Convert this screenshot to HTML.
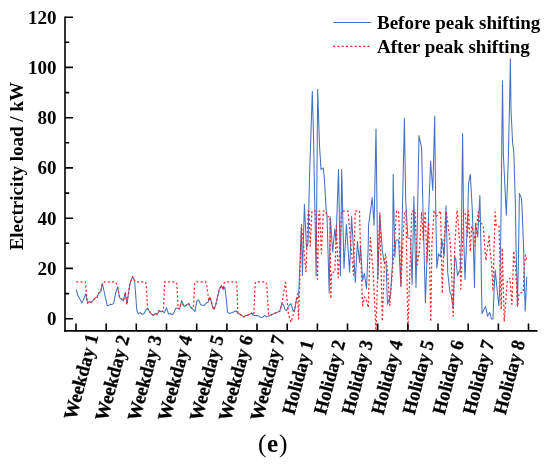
<!DOCTYPE html>
<html><head><meta charset="utf-8"><title>Electricity load</title>
<style>
html,body{margin:0;padding:0;background:#fff;}
svg{display:block;}
text{font-family:"Liberation Serif",serif;fill:#000;}
.b{font-weight:bold;}
</style></head><body>
<svg width="550" height="464" viewBox="0 0 550 464">
<rect width="550" height="464" fill="#fff"/>
<polyline fill="none" stroke="#4472c4" stroke-width="1.05" stroke-linejoin="round" points="76.2,289.5 77.9,295.5 82.0,303.1 85.8,293.8 87.5,303.1 89.6,301.5 91.3,302.5 95.6,297.6 97.1,297.3 98.9,292.7 100.8,291.6 102.4,283.5 107.1,305.3 108.2,305.8 110.4,304.2 112.0,304.4 113.6,303.6 115.8,292.2 117.7,287.3 119.6,297.6 121.3,298.7 123.5,300.9 125.3,292.2 126.9,304.2 129.9,284.0 132.6,276.6 134.6,280.7 135.6,293.8 136.8,310.2 138.3,313.7 140.3,312.6 141.9,314.0 143.8,314.0 145.7,310.2 147.6,308.5 151.2,314.0 153.1,315.3 155.5,313.5 157.2,314.5 159.4,310.4 161.0,311.8 162.6,311.1 164.3,312.9 166.5,307.8 168.6,314.0 170.3,313.5 172.1,314.8 174.1,312.4 175.7,308.5 177.4,308.0 179.5,309.1 181.7,300.9 183.4,305.3 184.1,306.4 185.5,305.8 188.5,303.4 190.9,307.5 193.1,309.3 194.9,311.8 196.9,300.9 198.5,299.8 200.7,304.7 204.0,305.6 206.2,303.1 208.1,302.3 210.0,297.1 212.7,306.9 214.0,309.6 216.0,303.6 219.3,289.5 221.5,285.6 223.1,289.5 224.9,287.3 226.4,300.4 227.5,311.8 229.1,313.5 232.4,312.4 236.2,310.7 237.8,313.5 238.3,313.5 240.5,314.5 243.7,316.9 245.9,315.4 248.1,315.1 251.4,313.2 253.5,315.4 255.7,315.6 257.9,315.6 261.2,317.6 263.1,316.9 264.5,315.4 266.6,316.9 269.9,315.4 273.2,314.0 276.5,312.4 279.7,311.3 281.9,303.6 283.5,304.7 285.0,309.6 286.6,310.7 288.3,306.4 291.0,303.6 293.2,311.3 294.8,309.6 296.5,298.7 298.6,297.1 301.3,228.0 302.4,275.5 304.4,204.2 306.5,248.2 308.0,243.0 309.5,178.0 312.3,91.3 313.5,135.0 316.1,276.0 317.7,89.2 319.5,145.5 321.0,169.5 323.2,167.9 324.3,177.5 326.2,210.0 327.0,216.0 329.2,293.1 330.3,216.7 332.7,252.0 334.8,228.9 336.0,241.6 338.5,169.6 340.4,275.5 341.7,169.6 344.0,268.4 346.4,224.4 349.6,272.2 351.6,216.2 355.3,282.5 357.4,241.5 359.6,262.5 360.5,245.3 362.6,280.5 364.3,273.5 366.5,288.7 368.1,250.0 368.6,225.1 372.2,197.6 374.1,225.6 376.0,129.1 377.9,279.5 379.9,215.3 382.3,250.0 383.9,260.9 386.1,263.1 387.5,304.3 390.5,295.0 392.6,261.0 393.2,174.2 394.8,257.1 395.9,239.9 398.6,239.9 400.8,286.0 404.4,118.2 405.7,200.0 407.9,238.2 410.6,238.2 412.1,284.4 413.9,196.5 416.0,287.5 418.2,180.0 419.0,135.6 421.6,147.6 423.0,210.0 425.4,303.1 427.3,250.0 430.6,161.1 432.8,190.5 434.7,116.0 435.6,200.0 436.8,268.0 438.5,253.7 440.6,257.0 441.8,238.9 444.2,256.0 446.0,205.8 447.7,272.3 449.9,292.0 451.0,294.4 453.2,308.5 454.8,257.0 455.9,259.2 457.5,275.5 460.3,269.0 461.3,240.0 462.6,133.5 463.8,240.0 465.0,279.4 467.9,210.0 468.5,184.0 470.3,174.2 472.3,210.0 473.4,245.0 474.5,287.5 475.4,223.0 477.7,237.0 479.9,195.4 481.0,250.0 481.5,290.0 482.1,313.5 485.4,306.4 486.5,310.7 487.5,316.2 489.7,312.4 491.4,318.9 493.0,318.9 494.1,290.0 495.2,270.1 498.8,305.8 499.5,295.0 500.6,250.0 501.2,200.0 502.5,80.8 503.4,155.0 506.3,215.3 508.3,160.0 509.4,110.0 510.4,59.0 511.0,110.0 512.6,142.7 513.8,152.0 515.4,205.0 516.0,245.0 517.5,306.4 518.6,250.0 519.4,193.4 521.4,198.4 521.9,205.0 523.5,245.0 525.2,311.3 526.8,276.8"/>
<polyline fill="none" stroke="#ff2222" stroke-width="1.25" stroke-dasharray="2 2.3" stroke-linejoin="round" points="76.2,281.8 85.3,281.8 86.4,293.8 87.5,303.1 89.6,301.5 91.3,302.5 95.6,297.6 97.1,297.3 98.9,292.7 100.8,291.6 102.4,283.5 104.7,281.8 115.3,281.8 117.1,285.1 117.7,287.3 119.6,297.6 121.3,298.7 123.5,300.9 125.3,292.2 126.9,304.2 129.9,284.0 132.6,276.6 134.6,280.7 135.6,281.8 145.2,281.8 146.3,284.0 147.6,308.5 151.2,314.0 153.1,315.3 155.5,313.5 157.2,314.5 159.4,310.4 161.0,311.8 162.6,311.1 163.4,309.1 164.8,281.8 175.7,281.8 176.8,284.0 178.1,308.0 179.5,309.1 181.7,300.9 183.4,305.3 184.1,306.4 185.5,305.8 188.5,303.4 190.9,307.5 192.9,308.5 193.6,304.7 194.7,282.9 196.4,281.8 205.6,281.8 206.7,285.1 208.9,301.2 210.0,297.1 212.7,306.9 214.0,309.6 216.0,303.6 219.3,289.5 221.5,285.6 223.1,289.5 224.2,282.9 225.3,281.8 236.2,281.8 236.9,284.0 237.8,313.5 238.3,313.5 240.5,314.5 243.7,316.9 245.9,315.4 248.1,315.1 251.4,313.2 253.0,315.1 253.8,313.5 255.2,282.9 256.3,281.8 265.5,281.8 266.6,284.0 267.7,300.4 268.6,314.5 269.9,315.4 273.2,314.0 276.5,312.4 279.7,311.3 281.9,303.6 285.4,282.4 288.4,313.5 291.0,322.2 294.8,309.6 296.5,298.7 297.5,294.0 298.6,318.9 301.5,224.5 306.0,271.6 308.2,211.0 309.2,212.0 310.2,246.0 311.9,211.0 315.7,211.0 317.5,279.3 318.9,211.0 319.6,211.0 321.4,253.6 323.4,211.0 325.6,211.0 326.9,216.0 330.0,217.0 330.8,298.7 331.6,272.2 334.9,272.2 336.4,224.0 338.2,277.6 341.8,211.0 348.0,211.0 353.5,274.9 355.3,211.0 359.5,211.0 360.5,248.0 362.6,305.9 364.5,297.0 366.0,298.0 368.3,307.5 370.3,237.6 373.0,270.0 376.0,331.0 377.5,280.0 379.8,212.5 382.3,321.2 384.5,262.0 385.5,254.0 387.7,272.0 389.7,305.4 393.2,261.0 396.5,211.0 398.6,211.0 401.0,286.0 402.5,250.0 404.6,211.0 406.0,211.0 407.9,331.0 410.6,250.0 411.7,211.0 413.9,211.0 415.0,211.0 417.2,264.6 419.5,250.0 421.6,212.0 423.3,240.0 425.2,211.5 427.0,262.0 428.7,222.5 430.8,321.6 431.9,245.0 434.1,210.4 436.3,216.4 440.6,210.9 442.3,293.3 443.9,245.0 446.0,211.5 447.2,218.0 450.5,245.0 453.2,316.2 454.8,245.0 457.0,210.4 457.5,213.0 459.7,245.0 460.8,289.0 462.5,245.0 463.5,211.0 465.2,214.0 467.4,236.0 468.5,211.0 469.0,220.0 470.3,251.5 471.7,226.0 474.5,236.0 475.0,245.8 477.2,221.8 478.3,212.0 479.4,223.0 481.5,223.5 483.2,226.0 484.8,248.0 485.9,260.3 487.6,247.0 489.2,235.0 490.0,250.0 491.4,261.4 493.0,291.0 494.1,247.0 495.2,212.0 496.3,225.6 499.0,226.0 499.5,243.6 501.2,309.6 502.3,248.0 504.2,321.6 506.6,290.0 507.2,282.0 509.9,278.3 511.9,304.2 513.7,251.0 514.3,256.0 515.9,272.3 517.5,306.4 518.6,296.5 519.1,293.2 523.2,292.3 524.3,266.0 525.5,255.0 526.5,259.5"/>
<g stroke="#000" stroke-width="1.6" fill="none" stroke-linecap="butt">
<path d="M65 16.4V331.7"/>
<path d="M64.2 330.9H537.5"/>
<path d="M65 318.7H73M65 268.4H73M65 218.2H73M65 167.9H73M65 117.7H73M65 67.4H73M65 17.2H73M65 293.6H69.2M65 243.3H69.2M65 193.1H69.2M65 142.8H69.2M65 92.6H69.2M65 42.3H69.2M76.0 330.9V323.6M106.2 330.9V323.6M136.3 330.9V323.6M166.5 330.9V323.6M196.7 330.9V323.6M226.9 330.9V323.6M257.0 330.9V323.6M287.2 330.9V323.6M317.4 330.9V323.6M347.5 330.9V323.6M377.7 330.9V323.6M407.9 330.9V323.6M438.0 330.9V323.6M468.2 330.9V323.6M498.4 330.9V323.6M528.5 330.9V323.6"/>
</g>
<g class="b" font-size="19" text-anchor="end">
<text x="56.5" y="325.1">0</text>
<text x="56.5" y="274.8">20</text>
<text x="56.5" y="224.6">40</text>
<text x="56.5" y="174.3">60</text>
<text x="56.5" y="124.1">80</text>
<text x="56.5" y="73.8">100</text>
<text x="56.5" y="23.6">120</text>
</g>
<text class="b" font-size="19" text-anchor="middle" transform="translate(23,166.2) rotate(-90)">Electricity load / kW</text>
<g class="b" font-size="19" text-anchor="middle" stroke="#000" stroke-width="0.3">
<text transform="translate(87.1,378.2) rotate(-75) scale(0.98,1)">Weekday 1</text>
<text transform="translate(118.4,379.5) rotate(-75) scale(0.98,1)">Weekday 2</text>
<text transform="translate(150.7,379.5) rotate(-75) scale(0.98,1)">Weekday 3</text>
<text transform="translate(181.0,379.5) rotate(-75) scale(0.98,1)">Weekday 4</text>
<text transform="translate(212.7,379.5) rotate(-75) scale(0.98,1)">Weekday 5</text>
<text transform="translate(241.8,379.5) rotate(-75) scale(0.98,1)">Weekday 6</text>
<text transform="translate(273.5,379.5) rotate(-75) scale(0.98,1)">Weekday 7</text>
<text transform="translate(304.1,378.8) rotate(-75) scale(0.965,1)">Holiday 1</text>
<text transform="translate(335.5,378.8) rotate(-75) scale(0.965,1)">Holiday 2</text>
<text transform="translate(363.4,378.8) rotate(-75) scale(0.965,1)">Holiday 3</text>
<text transform="translate(393.0,378.8) rotate(-75) scale(0.965,1)">Holiday 4</text>
<text transform="translate(424.3,378.8) rotate(-75) scale(0.965,1)">Holiday 5</text>
<text transform="translate(454.4,378.8) rotate(-75) scale(0.965,1)">Holiday 6</text>
<text transform="translate(484.6,378.8) rotate(-75) scale(0.965,1)">Holiday 7</text>
<text transform="translate(515.3,378.8) rotate(-75) scale(0.965,1)">Holiday 8</text>
</g>
<path d="M333.5 22.5H371.4" stroke="#4472c4" stroke-width="1.05" fill="none"/>
<path d="M333.1 46.3H371" stroke="#ff2222" stroke-width="1.25" stroke-dasharray="2 2.3" fill="none"/>
<text class="b" font-size="19" x="377" y="29.4">Before peak shifting</text>
<text class="b" font-size="19" x="377" y="52.9">After peak shifting</text>
<text font-size="25.5" x="258" y="451.9">(</text><text class="b" font-size="25" x="267" y="451.5">e</text><text font-size="25.5" x="279" y="451.9">)</text>
</svg>
</body></html>
